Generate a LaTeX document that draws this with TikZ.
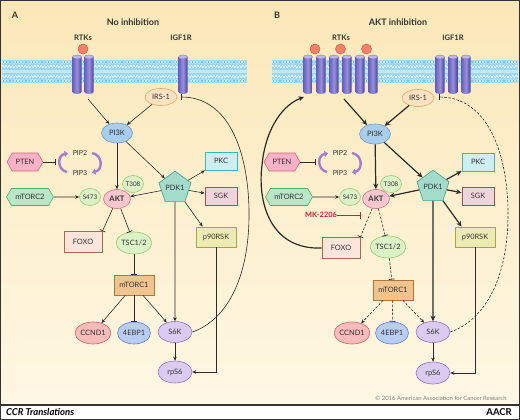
\documentclass[tikz,border=0pt]{standalone}
\usepackage{fontspec}
\setmainfont{Lato}
\usetikzlibrary{arrows.meta,shapes.geometric,shapes.symbols,decorations.pathmorphing,calc}
\definecolor{bgtop}{HTML}{FBE8B8}
\definecolor{bgbot}{HTML}{FEF7E4}
\definecolor{borderc}{HTML}{333333}
\definecolor{membc}{HTML}{9AD7F0}
\definecolor{beadc}{HTML}{4CB7E6}
\definecolor{cylL}{HTML}{6A60C2}
\definecolor{cylM}{HTML}{9890DE}
\definecolor{cylR}{HTML}{4A4198}
\definecolor{cylT}{HTML}{BDB7EE}
\definecolor{ballF}{HTML}{F2806A}
\definecolor{ballD}{HTML}{D35C45}
\definecolor{txtc}{HTML}{333333}
\definecolor{linec}{HTML}{2A2A2A}
\definecolor{irsF}{HTML}{FBE2C2}\definecolor{irsD}{HTML}{E3A55E}
\definecolor{piF}{HTML}{A9CDEC}\definecolor{piD}{HTML}{6C9CCB}
\definecolor{ptenF}{HTML}{F7B2C6}\definecolor{ptenD}{HTML}{DE5F86}
\definecolor{pipC}{HTML}{A67CD2}
\definecolor{pdkF}{HTML}{A4DCCB}\definecolor{pdkD}{HTML}{3FA08A}
\definecolor{pkcF}{HTML}{CDEFF0}\definecolor{pkcD}{HTML}{3FB5B8}
\definecolor{sgkF}{HTML}{F1D3DA}\definecolor{sgkD}{HTML}{9E4E66}
\definecolor{mtwoF}{HTML}{B9E6C6}\definecolor{mtwoD}{HTML}{4DAE6E}
\definecolor{grnF}{HTML}{DDF1C6}\definecolor{grnD}{HTML}{94C877}
\definecolor{aktF}{HTML}{F7C6CF}\definecolor{aktD}{HTML}{CF7587}
\definecolor{foxF}{HTML}{FBE4D9}\definecolor{foxD}{HTML}{A46A52}
\definecolor{pninF}{HTML}{EDEBB4}\definecolor{pninD}{HTML}{A8A43E}
\definecolor{moneF}{HTML}{F0C48F}\definecolor{moneD}{HTML}{B07538}
\definecolor{ccnF}{HTML}{F6BBBB}\definecolor{ccnD}{HTML}{D36363}
\definecolor{ebpF}{HTML}{B9CDF2}\definecolor{ebpD}{HTML}{5F82CA}
\definecolor{sixF}{HTML}{DCCBF1}\definecolor{sixD}{HTML}{9270C4}
\definecolor{mkred}{HTML}{C2223F}
\newcommand\membr[3]{%
  \fill[membc] (#1,60) rectangle (#2,83);
  \fill[membc!60!white] (#1,70) rectangle (#2,73);
  \draw[white,line width=0.5pt,decorate,decoration={zigzag,segment length=3.2pt,amplitude=1.3pt}] (#1,66.5) -- (#2,66.5);
  \draw[white,line width=0.5pt,decorate,decoration={zigzag,segment length=3.2pt,amplitude=1.3pt}] (#1,76.5) -- (#2,76.5);
  \foreach \i in {0,...,#3}{%
    \fill[beadc,draw=white,line width=0.3pt] (#1+1.6+3.2*\i,62) circle (1.5pt);
    \fill[beadc,draw=white,line width=0.3pt] (#1+1.6+3.2*\i,81) circle (1.5pt);}
}
\newcommand\cyl[1]{%
  \shade[left color=cylL,right color=cylR,middle color=cylM] (#1-4.5,57) -- (#1-4.5,92) arc[start angle=180,end angle=360,x radius=4.5pt,y radius=2pt] -- (#1+4.5,57) -- cycle;
  \fill[cylT,draw=cylL,line width=0.3pt] (#1,57) ellipse [x radius=4.5pt,y radius=2pt];
}
\newcommand\rball[1]{\fill[ballF,draw=ballD,line width=0.5pt] (#1,49) circle (5pt);}
\begin{document}
\begin{tikzpicture}[x=1pt,y=-1pt,
  base/.style={font=\fontsize{7.4}{8}\selectfont, text=txtc, inner sep=0pt, line width=0.6pt},
  small/.style={font=\fontsize{6.3}{7}\selectfont},
  ellbox/.style 2 args={base, ellipse, fill=#1, draw=#2},
  rectbox/.style 2 args={base, rectangle, fill=#1, draw=#2, line width=0.9pt},
  hexbox/.style 2 args={base, signal, signal to=east and west, signal pointer angle=120, fill=#1, draw=#2},
  pentbox/.style 2 args={base, regular polygon, regular polygon sides=5, fill=#1, draw=#2},
  lbl/.style={font=\fontsize{7.6}{8}\selectfont\bfseries, text=txtc, inner sep=0pt},
  ttl/.style={font=\fontsize{9}{10}\selectfont\bfseries, text=txtc, inner sep=0pt},
  piptxt/.style={font=\fontsize{7}{8}\selectfont, text=txtc, inner sep=0pt},
  act/.style={draw=linec, line width=0.6pt, -{Stealth[length=4pt,width=3.5pt]}},
  inh/.style={draw=linec, line width=0.6pt, -{Bar[width=6pt,line width=0.7pt]}},
  thk/.style={line width=1.2pt, -{Stealth[length=5.5pt,width=5pt]}},
  dsh/.style={dash pattern=on 2.5pt off 1.6pt},
  pipar/.style={draw=pipC, line width=2.4pt, -{Triangle[length=3.5pt,width=6pt]}},
]
\useasboundingbox (0,0) rectangle (520,420);
% background and frame
\shade[top color=bgtop,bottom color=bgbot] (1,1) rectangle (519,405);
\fill[white] (1,405) rectangle (519,419);
\draw[borderc,line width=1.3pt] (0.65,0.65) rectangle (519.35,419.35);
\draw[borderc,line width=1.1pt] (0.65,405) -- (519.35,405);
\node[font=\fontsize{9.5}{10}\selectfont\bfseries\itshape, text=black, anchor=west, inner sep=0pt] (ccr) at (6,412.5) {CCR Translations};
\node[font=\fontsize{9.5}{10}\selectfont\bfseries, text=black, anchor=east, inner sep=0pt] (aacr) at (512,412.5) {AACR};
\node[font=\fontsize{5.9}{6.5}\selectfont, text=gray, inner sep=0pt] (copy) at (441,398) {\textcopyright\ 2016 American Association for Cancer Research};

% ================= membranes =================
\membr{2}{247}{75}
\membr{272}{518}{76}

% ================= PANEL A =================
\node[ttl] (letA) at (15,15) {A};
\node[ttl] (titA) at (133,22) {No inhibition};
\node[lbl] (rtkLA) at (83,38) {RTKs};
\node[lbl] (igfLA) at (181,38) {IGF1R};
\rball{83}
\cyl{77}\cyl{89}\cyl{183}
\coordinate (rtkA) at (88,99);
\coordinate (igfbarA) at (181,97);

\node[ellbox={irsF}{irsD}, minimum width=32pt, minimum height=17pt] (irsA) at (161,97) {IRS-1};
\node[ellbox={piF}{piD}, minimum width=31pt, minimum height=20pt] (pi3kA) at (117,133) {PI3K};
\node[hexbox={ptenF}{ptenD}, minimum width=36pt, minimum height=18pt] (ptenA) at (25,162) {PTEN};
\node[piptxt] (pip2A) at (80,153) {PIP2};
\node[piptxt] (pip3A) at (80,173) {PIP3};
\coordinate (pipbarA) at (56,162);
\node[hexbox={mtwoF}{mtwoD}, minimum width=47pt, minimum height=17pt] (mt2A) at (30,197) {mTORC2};
\node[ellbox={grnF}{grnD}, small, minimum width=21pt, minimum height=17pt] (s473A) at (90,197) {S473};
\node[ellbox={grnF}{grnD}, small, minimum width=21pt, minimum height=17pt] (t308A) at (133,184) {T308};
\node[ellbox={aktF}{aktD}, minimum width=27pt, minimum height=19pt, font=\fontsize{7.6}{8}\selectfont\bfseries] (aktA) at (117,199) {AKT};
\node[pentbox={pdkF}{pdkD}, minimum size=31pt] (pdk1A) at (175,188) {PDK1};
\node[rectbox={pkcF}{pkcD}, minimum width=32pt, minimum height=18pt] (pkcA) at (221,161) {PKC};
\node[rectbox={sgkF}{sgkD}, minimum width=32pt, minimum height=18pt] (sgkA) at (221,196) {SGK};
\node[rectbox={pninF}{pninD}, minimum width=40pt, minimum height=20pt] (p90A) at (216,237) {p90RSK};
\node[rectbox={foxF}{foxD}, minimum width=38pt, minimum height=21pt] (foxoA) at (83,242) {FOXO};
\node[ellbox={grnF}{grnD}, minimum width=32pt, minimum height=22pt] (tscA) at (134,243) {TSC1/2};
\node[rectbox={moneF}{moneD}, minimum width=40pt, minimum height=20pt] (mt1A) at (134,285) {mTORC1};
\node[ellbox={ccnF}{ccnD}, minimum width=34pt, minimum height=22pt] (ccnA) at (93,333) {CCND1};
\node[ellbox={ebpF}{ebpD}, minimum width=33pt, minimum height=22pt] (ebpA) at (134,333) {4EBP1};
\node[ellbox={sixF}{sixD}, minimum width=34pt, minimum height=21pt] (s6kA) at (175,332) {S6K};
\node[ellbox={sixF}{sixD}, minimum width=34pt, minimum height=22pt] (rpsA) at (175,372) {rpS6};

\draw[act] (rtkA) -- (pi3kA);
\draw[act] (irsA) -- (pi3kA);
\draw[act] (pi3kA) -- (aktA);
\draw[act] (pi3kA) -- (pdk1A);
\draw[act] (pdk1A) -- (aktA);
\draw[act] (pdk1A) -- (pkcA);
\draw[act] (pdk1A) -- (sgkA);
\draw[act] (pdk1A) -- ([xshift=7pt]p90A.north west);
\draw[act] (mt2A) -- (s473A);
\draw[inh] (ptenA.east) -- (pipbarA);
\draw[pipar] (67,172) .. controls (57,170) and (57,155) .. (68,153.5);
\draw[pipar] (92,153) .. controls (103,155) and (103,170) .. (92,172.5);
\draw[inh] (aktA) -- (foxoA.north east);
\draw[inh] (aktA) -- (tscA);
\draw[inh] (tscA) -- (mt1A);
\draw[act] (mt1A) -- (ccnA);
\draw[inh] (mt1A) -- (ebpA);
\draw[act] (mt1A) -- (s6kA);
\draw[act] (pdk1A) -- (s6kA);
\draw[act] (s6kA) -- (rpsA);
\draw[act] (p90A.south) |- (rpsA.east);
\draw[inh] (s6kA.east) .. controls (222,322) and (250,285) .. (249,210) .. controls (248,150) and (228,97) .. (igfbarA);

% ================= PANEL B =================
\node[ttl] (letB) at (277,15) {B};
\node[ttl] (titB) at (398,22) {AKT inhibition};
\node[lbl] (rtkLB) at (341,38) {RTKs};
\node[lbl] (igfLB) at (453,38) {IGF1R};
\rball{315}\rball{340.5}\rball{366.5}
\cyl{308}\cyl{321}\cyl{334}\cyl{347}\cyl{360}\cyl{373}
\cyl{440}\cyl{453}\cyl{466}
\coordinate (rtkB) at (344,99);
\coordinate (rtkinB) at (304,97);
\coordinate (igfbarB) at (439,97);
\coordinate (mkbarB) at (361,215);

\node[ellbox={irsF}{irsD}, minimum width=32pt, minimum height=17pt] (irsB) at (418,98) {IRS-1};
\node[ellbox={piF}{piD}, minimum width=31pt, minimum height=20pt] (pi3kB) at (375,134) {PI3K};
\node[hexbox={ptenF}{ptenD}, minimum width=36pt, minimum height=18pt] (ptenB) at (282,162) {PTEN};
\node[piptxt] (pip2B) at (340,153) {PIP2};
\node[piptxt] (pip3B) at (340,173) {PIP3};
\coordinate (pipbarB) at (316,162);
\node[hexbox={mtwoF}{mtwoD}, minimum width=47pt, minimum height=17pt] (mt2B) at (289,197) {mTORC2};
\node[ellbox={grnF}{grnD}, small, minimum width=21pt, minimum height=17pt] (s473B) at (350,197) {S473};
\node[ellbox={grnF}{grnD}, small, minimum width=21pt, minimum height=17pt] (t308B) at (391,184) {T308};
\node[ellbox={aktF}{aktD}, minimum width=27pt, minimum height=19pt, font=\fontsize{7.6}{8}\selectfont\bfseries] (aktB) at (376,199) {AKT};
\node[pentbox={pdkF}{pdkD}, minimum size=31pt] (pdk1B) at (433,187) {PDK1};
\node[rectbox={pkcF}{pkcD}, minimum width=32pt, minimum height=18pt] (pkcB) at (478,162) {PKC};
\node[rectbox={sgkF}{sgkD}, minimum width=32pt, minimum height=18pt] (sgkB) at (478,196) {SGK};
\node[rectbox={pninF}{pninD}, minimum width=40pt, minimum height=20pt] (p90B) at (475,237) {p90RSK};
\node[rectbox={foxF}{foxD}, minimum width=38pt, minimum height=21pt] (foxoB) at (341,248) {FOXO};
\node[ellbox={grnF}{grnD}, minimum width=32pt, minimum height=22pt] (tscB) at (388,247) {TSC1/2};
\node[rectbox={moneF}{moneD}, minimum width=40pt, minimum height=20pt] (mt1B) at (393,290) {mTORC1};
\node[ellbox={ccnF}{ccnD}, minimum width=34pt, minimum height=22pt] (ccnB) at (352,333) {CCND1};
\node[ellbox={ebpF}{ebpD}, minimum width=33pt, minimum height=22pt] (ebpB) at (392,333) {4EBP1};
\node[ellbox={sixF}{sixD}, minimum width=34pt, minimum height=21pt] (s6kB) at (433,332) {S6K};
\node[ellbox={sixF}{sixD}, minimum width=34pt, minimum height=22pt] (rpsB) at (433,373) {rpS6};
\node[font=\fontsize{7.4}{8}\selectfont\bfseries, text=mkred, inner sep=0pt] (mkB) at (321,215) {MK-2206};

\draw[act,thk] (rtkB) -- (pi3kB);
\draw[act,thk] (irsB) -- (pi3kB);
\draw[act,thk] (pi3kB) -- (aktB);
\draw[act,thk] (pi3kB) -- (pdk1B);
\draw[act,thk] (pdk1B) -- (aktB);
\draw[act,thk] (pdk1B) -- (pkcB);
\draw[act,thk] (pdk1B) -- (sgkB);
\draw[act,thk] (pdk1B) -- ([xshift=7pt]p90B.north west);
\draw[act] (mt2B) -- (s473B);
\draw[inh] (ptenB.east) -- (pipbarB);
\draw[pipar] (327,172) .. controls (317,170) and (317,155) .. (328,153.5);
\draw[pipar] (352,153) .. controls (363,155) and (363,170) .. (352,172.5);
\draw[inh,dsh] (aktB) -- (foxoB.north east);
\draw[inh,dsh] (aktB) -- (tscB);
\draw[inh,dsh] (tscB) -- (mt1B);
\draw[act,dsh] (mt1B) -- (ccnB);
\draw[inh,dsh] (mt1B) -- (ebpB);
\draw[act,dsh] (mt1B) -- (s6kB);
\draw[act,thk] (pdk1B) -- (s6kB);
\draw[act] (s6kB) -- (rpsB);
\draw[act] (p90B.south) |- (rpsB.east);
\draw[inh,dsh] (s6kB.east) .. controls (480,322) and (509,285) .. (508,210) .. controls (507,150) and (486,97) .. (igfbarB);
\draw[act,thk] (foxoB.west) .. controls (272,250) and (257,205) .. (262,165) .. controls (266,125) and (285,104) .. (rtkinB);
\draw[mkred, line width=1pt, -{Bar[width=7pt,line width=1pt]}] (mkB.east) -- (mkbarB);
\end{tikzpicture}
\end{document}
